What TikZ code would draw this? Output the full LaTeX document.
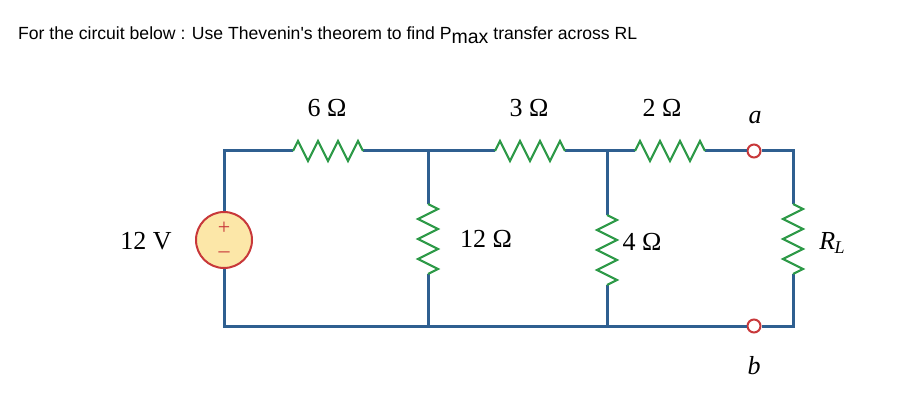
\documentclass[tikz,border=0pt]{standalone}
\usepackage{fontspec}
\setmainfont{Liberation Serif}
\newfontfamily\arialf{Liberation Sans}
\definecolor{wire}{HTML}{2F5F90}
\definecolor{resg}{HTML}{2E9A48}
\definecolor{srcf}{HTML}{FCE7A8}
\definecolor{srcr}{HTML}{C8383A}
\begin{document}
\begin{tikzpicture}[x=1pt,y=-1pt,
  wireline/.style={draw=wire,line width=3pt},
  resline/.style={draw=resg,line width=2.2pt,line join=miter},
  lbl/.style={font=\fontsize{26}{26}\selectfont,inner sep=0pt},
  term/.style={circle,draw=srcr,fill=white,line width=2pt,minimum size=13pt,inner sep=0pt},
  pics/res/.style={code={\draw[resline] (0,0)--(5,-10)--(15,10)--(25,-10)--(35,10)--(45,-10)--(55,10)--(65,-10)--(70,0);}}]
\useasboundingbox (0,0) rectangle (920,419);
\node[anchor=west,font=\arialf\fontsize{17.6}{18}\selectfont,inner sep=0pt] (title) at (18,35) {For the circuit below : Use Thevenin's theorem to find P\raisebox{-0.45ex}{\fontsize{19.5}{20}\selectfont max} transfer across RL};
\coordinate (tl) at (224,151); \coordinate (bl) at (224,326);
\coordinate (t2) at (428,151); \coordinate (b2) at (428,326);
\coordinate (t3) at (607,151); \coordinate (b3) at (607,326);
\coordinate (tr) at (793,151); \coordinate (br) at (793,326);
\coordinate (r1a) at (293,151); \coordinate (r1b) at (363,151);
\coordinate (r2a) at (495,151); \coordinate (r2b) at (565,151);
\coordinate (r3a) at (635,151); \coordinate (r3b) at (705,151);
\coordinate (r4a) at (428,204); \coordinate (r4b) at (428,274);
\coordinate (r5a) at (607,215); \coordinate (r5b) at (607,285);
\coordinate (r6a) at (793,204); \coordinate (r6b) at (793,274);
\node[circle,draw=srcr,fill=srcf,line width=2pt,minimum size=56pt,inner sep=0pt] (src) at (224,240) {};
\node[text=srcr,font=\fontsize{22}{22}\selectfont,inner sep=0pt] (plus) at (224,228) {+};
\node[text=srcr,font=\fontsize{22}{22}\selectfont,inner sep=0pt] (minus) at (224,255) {\textendash};
\node[term] (a) at (754,151) {};
\node[term] (b) at (754,326) {};
\draw[wireline] (src.north) -- (tl) -- (r1a);
\draw[wireline] (r1b) -- (r2a);
\draw[wireline] (r2b) -- (r3a);
\draw[wireline] (r3b) -- (a.west);
\draw[wireline] (a.east) -- (tr) -- (r6a);
\draw[wireline] (r6b) -- (br) -- (b.east);
\draw[wireline] (b.west) -- (bl) -- (src.south);
\draw[wireline] (t2) -- (r4a); \draw[wireline] (r4b) -- (b2);
\draw[wireline] (t3) -- (r5a); \draw[wireline] (r5b) -- (b3);
\pic at (r1a) {res}; \pic at (r2a) {res}; \pic at (r3a) {res};
\pic[rotate=-90] at (r4a) {res};
\pic[rotate=-90] at (r5a) {res};
\pic[rotate=-90] at (r6a) {res};
\node[lbl] (l6) at (327,108) {6 Ω};
\node[lbl] (l3) at (529,108) {3 Ω};
\node[lbl] (l2) at (662,108) {2 Ω};
\node[lbl] (la) at (755,118) {\itshape a};
\node[lbl] (lv) at (146,241) {12 V};
\node[lbl] (l12) at (486,239) {12 Ω};
\node[lbl] (l4) at (642,242) {4 Ω};
\node[lbl] (lr) at (832,243) {\itshape R\kern-0.5pt\raisebox{-0.35ex}{\fontsize{18}{18}\selectfont L}};
\node[lbl] (lb) at (754,366) {\itshape b};
\end{tikzpicture}
\end{document}
